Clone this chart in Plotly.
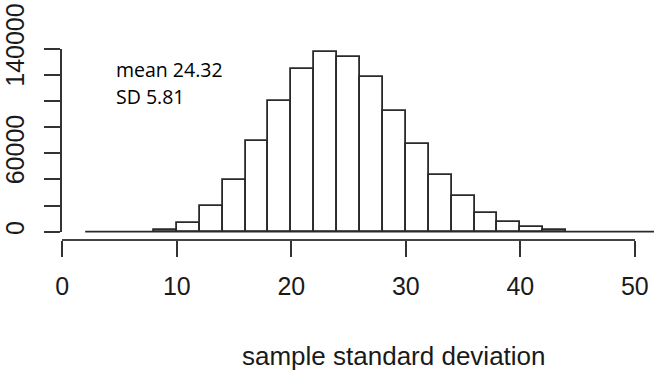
import plotly.graph_objects as go

# Histogram data (bins of width 2)
breaks = list(range(2, 56, 2))  # bin edges 2..54
counts = [0, 0, 0, 1500, 6700, 19700, 39800, 69700, 100000, 124300, 137300,
          133700, 118200, 92600, 66900, 43600, 27300, 14100, 7400, 3800, 1100,
          0, 0, 0, 0, 0]
x_ticks = [0, 10, 20, 30, 40, 50]
y_ticks = [0, 20000, 40000, 60000, 80000, 100000, 120000, 140000]
y_ticktext = ["0", "", "", "60000", "", "", "", "140000"]
stats_text = ["mean 24.32", "SD 5.81"]
x_title = "sample standard deviation"

W, H = 654, 374
centers = [(breaks[i] + breaks[i + 1]) / 2 for i in range(len(counts))]
nz = [i for i, c in enumerate(counts) if c > 0]

line_col = "#2a2a2a"
fig = go.Figure()
# baseline of the histogram (zero-height bins)
fig.add_trace(go.Scatter(x=[breaks[0], breaks[-1]], y=[0, 0], mode="lines",
                         line=dict(color=line_col, width=1.8), showlegend=False,
                         hoverinfo="skip"))
fig.add_trace(go.Bar(x=[centers[i] for i in nz], y=[counts[i] for i in nz],
                     width=2, marker=dict(color="white",
                                          line=dict(color=line_col, width=1.8)),
                     showlegend=False))
# dummy trace for display axes
fig.add_trace(go.Scatter(x=[None], y=[None], xaxis="x2", yaxis="y2",
                         showlegend=False, hoverinfo="skip"))

px_per_x = 11.45
x0px = 62.3
y0px = 231.7
px_per_y = 26.13 / 20000

fig.update_layout(
    width=W, height=H, autosize=False,
    margin=dict(l=0, r=0, t=0, b=0, pad=0, autoexpand=False),
    paper_bgcolor="white", plot_bgcolor="rgba(0,0,0,0)",
    bargap=0,
    font=dict(family="Liberation Sans, Arial, sans-serif", color="#1a1a1a"),
    xaxis=dict(domain=[0, 1], range=[-x0px / px_per_x, (W - x0px) / px_per_x],
               visible=False, showgrid=False, zeroline=False, automargin=False),
    yaxis=dict(domain=[0, 1], range=[-(H - y0px) / px_per_y, y0px / px_per_y],
               visible=False, showgrid=False, zeroline=False, automargin=False),
    xaxis2=dict(domain=[x0px / W, (x0px + 50 * px_per_x) / W], range=[0, 50],
                anchor="free", position=1 - 240 / H, automargin=False,
                showline=True, linecolor="#444", linewidth=1.5,
                ticks="outside", ticklen=16, tickwidth=1.5, tickcolor="#333",
                tickvals=x_ticks, ticktext=[str(v) for v in x_ticks],
                tickfont=dict(size=25, family="Liberation Sans, Arial, sans-serif",
                              color="#1a1a1a"),
                ticklabelstandoff=8,
                showgrid=False, zeroline=False, fixedrange=True),
    yaxis2=dict(domain=[1 - y0px / H, 1 - (y0px - 140000 * px_per_y) / H],
                range=[0, 140000], anchor="free", position=60.7 / W, automargin=False,
                showline=True, linecolor="#333", linewidth=1.5,
                ticks="outside", ticklen=16, tickwidth=1.5, tickcolor="#333",
                tickvals=y_ticks, ticktext=y_ticktext, tickangle=-90,
                tickfont=dict(size=25, family="Liberation Sans, Arial, sans-serif",
                              color="#1a1a1a"),
                ticklabelstandoff=10,
                showgrid=False, zeroline=False, fixedrange=True),
)

fig.add_annotation(x=114 / W, y=1 - 70 / H, xref="paper", yref="paper",
                   text=stats_text[0], showarrow=False, xanchor="left",
                   yanchor="middle",
                   font=dict(size=19.5, family="Open Sans, sans-serif", color="black"))
fig.add_annotation(x=114 / W, y=1 - 97 / H, xref="paper", yref="paper",
                   text=stats_text[1], showarrow=False, xanchor="left",
                   yanchor="middle",
                   font=dict(size=19.5, family="Open Sans, sans-serif", color="black"))
fig.add_annotation(x=394 / W, y=1 - 356 / H, xref="paper", yref="paper",
                   text=x_title, showarrow=False, xanchor="center", yanchor="middle",
                   font=dict(size=26, family="Liberation Sans, Arial, sans-serif",
                             color="#1a1a1a"))

fig.write_html("out.html",
               config={"displayModeBar": False},
               post_script="document.body.style.margin='0';"
                           "document.body.style.overflow='hidden';")
